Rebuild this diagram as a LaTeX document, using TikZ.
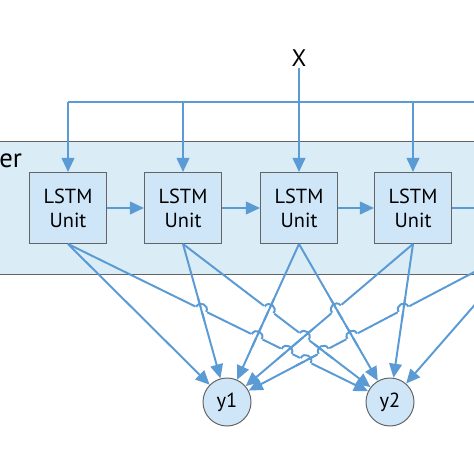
\documentclass[tikz,border=0pt]{standalone}
\usepackage{fontspec}
\setmainfont{PT Sans}
\usetikzlibrary{arrows.meta,calc,intersections}

\definecolor{linkblue}{RGB}{91,155,213}
\definecolor{layerfill}{RGB}{218,236,245}
\definecolor{unitfill}{RGB}{206,230,248}
\definecolor{edgegray}{RGB}{100,100,100}

\tikzset{
  link/.style={draw=linkblue,line width=1.4pt},
  >={Triangle[length=10pt,width=9pt]},
  unitsize/.style={minimum width=1.925cm,minimum height=1.775cm},
  unit/.style={unitsize,draw=edgegray,fill=unitfill,line width=0.7pt,align=center,
    font=\fontsize{14.5}{17}\selectfont},
  outnode/.style={circle,draw=edgegray,fill=unitfill,line width=0.7pt,minimum size=1.2cm,
    inner sep=0pt,font=\fontsize{14.5}{17}\selectfont}
}

\begin{document}
\begin{tikzpicture}[x=0.025cm,y=-0.025cm]
        \useasboundingbox (0,0) rectangle (474,474);
        \clip (0,0) rectangle (474,474);
        % layer band
        \draw[draw=edgegray,fill=layerfill,line width=0.7pt] (-20,141) rectangle (520,274);
        \node[anchor=base west,inner sep=0pt,font=\fontsize{19}{22}\selectfont] (lbl) at (-1,167) {er};
        % units (the fifth one lies past the right edge)
        \node[unit] (u1) at (68,208) {LSTM\\Unit};
        \node[unit] (u2) at (183,208) {LSTM\\Unit};
        \node[unit] (u3) at (299,208) {LSTM\\Unit};
        \node[unit] (u4) at (413,208) {LSTM\\Unit};
        \node[unitsize] (u5) at (528,208) {};
        \node[outnode] (y1) at (227,402) {y1};
        \node[outnode] (y2) at (390,402) {y2};
        \node[font=\fontsize{17}{20}\selectfont,inner sep=1pt] (X) at (299,58) {X};
        % input bus
        \coordinate (bus) at (0,102);
        \draw[link] (u1.north |- bus) -- (u5.north |- bus);
        \draw[link,->] (X) -- (u3.north);
        \foreach \i in {1,2,4,5}
          \draw[link,->] (u\i.north |- bus) -- (u\i.north);
        % recurrence
        \foreach \i/\j in {1/2,2/3,3/4,4/5}
          \draw[link,->] (u\i) -- (u\j);
        % outputs
        \foreach \i in {1,...,5} {
          \coordinate (sa\i) at (u\i.south); \coordinate (ea\i) at (y1.center);
          \coordinate (sb\i) at (u\i.south); \coordinate (eb\i) at (y2.center);
          \draw[link,->,name path global=a\i] (u\i.south) -- (y1);
          \draw[link,->,name path global=b\i] (u\i.south) -- (y2);
        }
        % line jumps
        \foreach \hop/\other/\from/\to in {b1/a2/s/e,b1/a3/s/e,b2/a3/s/e,b1/a4/s/e,b2/a4/s/e,
            a4/b3/e/s,b1/a5/s/e,a5/b2/e/s,a5/b3/e/s,a5/b4/e/s} {
          \path[name intersections/.expanded={of=\hop\space and \other,by=P}];
          \draw[white,line width=2.6pt] ($(P)!0.16cm!(\from\hop)$) -- ($(P)!0.16cm!(\to\hop)$);
          \draw[link] ($(P)!0.3cm!(s\other)$) -- ($(P)!0.3cm!(e\other)$);
          \draw[link] ($(P)!0.14cm!(\from\hop)$) to[bend left=90,looseness=1.7] ($(P)!0.14cm!(\to\hop)$);
        }
      \end{tikzpicture}
\end{document}
